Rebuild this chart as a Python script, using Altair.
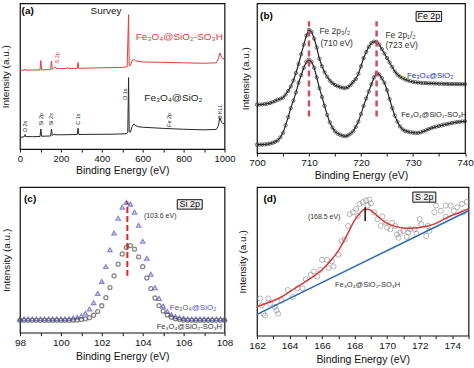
import altair as alt
import pandas as pd

FONT = "Liberation Sans"

# ---------------- Panel (a): survey ----------------
a_black_x = [0, 15, 22, 25, 28, 60, 98, 102, 106, 150, 154, 158, 165, 175, 200, 280, 284, 288, 350, 450,
             520, 527, 531, 534, 540, 548, 557, 566, 580, 600, 700, 800, 900, 960, 970, 977, 985, 992, 1000]
a_black_y = [8.0, 8.3, 8.6, 10.0, 8.6, 8.5, 8.6, 13.8, 8.8, 9.0, 13.8, 9.4, 10.0, 9.8, 9.8, 10.0, 14.3, 10.0, 10.1, 10.2,
             10.5, 11.5, 49.0, 12.0, 11.5, 15.5, 17.2, 16.0, 15.3, 15.0, 14.2, 13.6, 13.2, 13.5, 16.0, 21.6, 18.5, 17.5, 18.0]
a_red_x = [0, 22, 25, 28, 98, 102, 106, 150, 154, 158, 165, 170, 176, 200, 228, 232, 236, 280, 284, 288,
           400, 500, 524, 531, 534, 540, 548, 557, 566, 600, 700, 800, 900, 960, 970, 977, 985, 992, 1000]
a_red_y = [54.0, 54.2, 55.0, 54.2, 54.3, 60.8, 54.4, 54.5, 60.4, 54.8, 55.8, 56.5, 55.5, 55.2, 55.3, 56.0, 55.3, 55.4, 59.4, 55.4,
           55.8, 56.0, 56.5, 92.3, 57.0, 57.5, 60.5, 61.5, 60.5, 59.8, 59.5, 59.2, 58.9, 59.2, 62.0, 66.0, 63.0, 62.0, 62.6]
a_peak_text = ["O 2s", "Si 2p", "Si 2s", "C 1s", "O 1s", "Fe 2p", "O KLL"]
a_peak_x = [24, 102, 154, 284, 512, 729, 976]
a_peak_y = [15.5, 20.5, 20.5, 20.5, 37.6, 20.0, 25.5]
a_red_peak_text = ["S 2p"]
a_red_peak_x = [180]
a_red_peak_y = [62.6]

# ---------------- Panel (b): Fe 2p ----------------
b_x = [700.0, 700.5, 701.0, 701.5, 702.0, 702.5, 703.0, 703.5, 704.0, 704.5,
       705.0, 705.5, 706.0, 706.5, 707.0, 707.5, 708.0, 708.5, 709.0, 709.5,
       710.0, 710.5, 711.0, 711.5, 712.0, 712.5, 713.0, 713.5, 714.0, 714.5,
       715.0, 715.5, 716.0, 716.5, 717.0, 717.5, 718.0, 718.5, 719.0, 719.5,
       720.0, 720.5, 721.0, 721.5, 722.0, 722.5, 723.0, 723.5, 724.0, 724.5,
       725.0, 725.5, 726.0, 726.5, 727.0, 727.5, 728.0, 728.5, 729.0, 729.5,
       730.0, 730.5, 731.0, 731.5, 732.0, 732.5, 733.0, 733.5, 734.0, 734.5,
       735.0, 735.5, 736.0, 736.5, 737.0, 737.5, 738.0, 738.5, 739.0, 739.5, 740.0]
b_blue = [32.3, 32.4, 32.5, 32.7, 33.0, 33.4, 34.0, 34.8, 35.6, 36.2,
          37.0, 39.0, 41.5, 44.5, 48.5, 53.5, 59.5, 66.0, 72.5, 78.5,
          82.4, 81.0, 76.5, 70.5, 63.0, 58.0, 54.0, 51.0, 48.5, 46.8,
          45.5, 44.7, 44.0, 43.6, 43.4, 44.0, 45.5, 47.5, 49.5, 53.0,
          58.0, 63.5, 67.5, 71.0, 73.5, 74.5, 74.3, 72.5, 69.5, 66.5,
          63.5, 60.5, 57.5, 54.5, 52.5, 51.0, 50.0, 49.2, 48.5, 48.0,
          47.6, 47.3, 47.1, 46.9, 46.8, 46.7, 46.6, 46.5, 46.5, 46.4,
          46.3, 46.3, 46.2, 46.2, 46.1, 46.1, 46.1, 46.1, 46.0, 46.0, 46.0]
b_black = [5.6, 5.6, 5.7, 5.8, 6.0, 6.3, 6.8, 7.5, 8.5, 10.5,
           13.5, 18.5, 24.0, 30.0, 35.0, 40.5, 47.0, 52.0, 57.0, 61.0,
           62.4, 61.0, 57.0, 50.5, 43.4, 37.5, 31.5, 25.5, 20.5, 17.0,
           14.5, 13.0, 12.2, 11.5, 11.2, 11.8, 13.0, 14.5, 17.5, 21.0,
           26.0, 31.5, 36.5, 41.2, 46.0, 50.5, 53.4, 52.5, 50.0, 47.0,
           42.0, 36.0, 30.1, 25.0, 21.0, 17.8, 15.8, 14.8, 14.3, 13.9,
           13.6, 13.4, 13.5, 13.9, 14.5, 15.2, 16.0, 16.7, 17.2, 17.7,
           18.1, 18.5, 18.9, 19.3, 19.7, 20.1, 20.4, 20.7, 20.9, 21.1, 21.2]
b_dash_x = [710, 723]
b_dash_y1 = [24.5, 24.5]
b_dash_y2 = [88.0, 88.0]

# ---------------- Panel (c): Si 2p ----------------
c_x = [98.0, 98.2, 98.4, 98.6, 98.8, 99.0, 99.2, 99.4, 99.6, 99.8,
       100.0, 100.2, 100.4, 100.6, 100.8, 101.0, 101.2, 101.4, 101.6, 101.8,
       102.0, 102.2, 102.4, 102.6, 102.8, 103.0, 103.2, 103.4, 103.6, 103.8,
       104.0, 104.2, 104.4, 104.6, 104.8, 105.0, 105.2, 105.4, 105.6, 105.8,
       106.0, 106.2, 106.4, 106.6, 106.8, 107.0, 107.2, 107.4, 107.6, 107.8, 108.0]
c_blue = [9.5, 9.5, 9.5, 9.5, 9.5, 9.5, 9.5, 9.5, 9.5, 9.5,
          9.5, 9.5, 9.7, 10.0, 10.5, 11.5, 13.3, 16.2, 20.6, 26.9,
          35.2, 45.4, 56.9, 68.4, 78.5, 86.0, 89.4, 88.2, 82.7, 73.7,
          62.7, 51.0, 40.1, 30.8, 23.5, 18.2, 14.6, 12.3, 11.0, 10.2,
          9.8, 9.5, 9.5, 9.5, 9.5, 9.5, 9.5, 9.5, 9.5, 9.5, 9.5]
c_gray = [8.5, 8.5, 8.5, 8.5, 8.5, 8.5, 8.5, 8.5, 8.5, 8.5,
          8.5, 8.5, 8.5, 8.6, 8.7, 9.0, 9.5, 10.3, 12.0, 14.5,
          18.5, 24.0, 31.0, 39.0, 47.0, 54.0, 58.5, 59.8, 57.3, 52.1,
          45.3, 37.6, 30.3, 23.8, 18.6, 14.8, 12.2, 10.6, 9.6, 9.0,
          8.7, 8.5, 8.5, 8.5, 8.5, 8.5, 8.5, 8.5, 8.5, 8.5, 8.5]
c_dash_x = [103.25]
c_dash_y1 = [39.0]
c_dash_y2 = [90.0]

# ---------------- Panel (d): S 2p ----------------
d_pts_x = [162.2, 162.3, 162.4, 162.5, 162.7, 162.8, 163.1, 163.2, 163.3, 163.5,
           163.9, 164.2, 164.5, 164.8, 165.0, 165.3, 165.5, 165.7, 165.9, 166.0,
           166.3, 166.4, 166.6, 166.7, 167.0, 167.2, 167.4, 167.6, 167.7, 167.9,
           168.1, 168.3, 168.5, 168.7, 168.8, 169.2, 169.4, 169.6, 169.9, 170.0,
           170.2, 170.5, 170.6, 170.7, 170.8, 171.0, 171.2, 171.3, 171.4, 171.7,
           171.8, 172.0, 172.1, 172.4, 172.5, 172.6, 172.9, 173.0, 173.3, 173.6,
           173.9, 174.1, 174.3, 174.6, 174.7, 168.9, 169.0, 168.2, 169.7, 170.3, 173.6, 174.9]
d_pts_y = [25, 20.4, 14.8, 13.6, 25, 21.6, 19.3, 17, 14.8, 23.9,
           30.7, 26, 31.8, 31.8, 38, 40.9, 43.2, 39.8, 44.3, 51,
           51, 45.5, 50, 46.6, 54.5, 63.6, 64.8, 73.8, 81.8, 83,
           85.2, 88.6, 89.8, 90.9, 87.5, 83, 78.4, 73.8, 76.1, 72.7,
           71.6, 73.8, 68, 65.9, 69.3, 70.5, 66.5, 69.3, 71.6, 71.6,
           68.5, 78.4, 75, 67, 73.8, 70.5, 83, 87.5, 84, 87.5,
           87.5, 84, 86.4, 88.6, 83, 91.5, 89.0, 80.5, 80.2, 76.0, 80.0, 90.0]
d_fit_x = [162, 162.5, 163, 163.5, 164, 164.5, 165, 165.5, 166, 166.5, 167, 167.5, 168, 168.3, 168.6,
           168.9, 169.2, 169.5, 170, 170.5, 171, 171.5, 172, 172.5, 173, 173.5, 174, 174.5, 175]
d_fit_y = [19.5, 21.5, 23.5, 26.0, 29.5, 33.0, 36.5, 40.0, 44.3, 50.0, 57.0, 67.0, 77.5, 82.0, 85.0,
           84.8, 82.5, 79.5, 75.5, 73.5, 72.5, 72.3, 72.8, 73.8, 75.5, 78.4, 81.0, 83.0, 85.5]
d_base_x = [162, 175]
d_base_y = [14.3, 84.0]
d_mark_x = [168.65]
d_mark_y1 = [77.2]
d_mark_y2 = [86.4]

SAMPLE = "Fe\u2083O\u2084@SiO\u2082"
SAMPLE_S = "Fe\u2083O\u2084@SiO\u2082-SO\u2083H"

# annotation tables: text, x, y
a_survey = (["Survey"], [421], [94.5])
a_red_name = ([SAMPLE_S], [779], [76.8])
a_black_name = ([SAMPLE], [750], [35.1])
b_notes = (["Fe 2p\u2083/\u2082", "(710 eV)", "Fe 2p\u2081/\u2082", "(723 eV)"], [712.0, 712.2, 724.7, 724.7], [81.8, 73.5, 79.0, 72.4])
b_blue_name = ([SAMPLE], [733.3], [51.5])
b_black_name = ([SAMPLE_S], [734.0], [25.6])
c_notes = (["(103.6 eV)"], [104.06], [80.0])
c_blue_name = ([SAMPLE], [106.46], [17.0])
c_gray_name = ([SAMPLE_S], [106.28], [4.1])
d_peak_note = (["(168.5 eV)"], [165.13], [80.0])
d_name = ([SAMPLE_S], [168.8], [34.1])
panel_tags = (["(a)", "(b)", "(c)", "(d)"], [8, 700.6, 98.2, 162.4], [94.5, 91.3, 92.0, 92.0])
# boxed labels: text, x1, x2, y1, y2
box_text = ["Fe 2p", "Si 2p", "S 2p"]
box_x1 = [730.6, 105.69, 171.58]
box_x2 = [735.5, 106.91, 172.99]
box_y1 = [87.9, 84.8, 89.8]
box_y2 = [94.6, 91.3, 96.6]

YS = alt.Scale(domain=[0, 100], nice=False, zero=False)


def xaxis(values, every, lsize, lpad, tpad):
    return alt.Axis(title="Binding Energy (eV)", values=values, format="d",
                    labelExpr=f"datum.value % {every} == 0 ? datum.label : ''",
                    labelFlush=False, labelOverlap=False, tickSize=3, tickWidth=1,
                    labelFontSize=lsize, labelPadding=lpad, titleFontSize=10.5,
                    titlePadding=tpad, domain=False, grid=False)


def yaxis(tpad):
    return alt.Axis(title="Intensity (a.u.)", labels=False, ticks=False, domain=False,
                    grid=False, titleFontSize=10, titlePadding=tpad)


def make_enc(dom, xax, yax):
    return dict(x=alt.X("x:Q", scale=alt.Scale(domain=dom, nice=False, zero=False), axis=xax),
                y=alt.Y("y:Q", scale=YS, axis=yax))


def text_layer(tbl, enc, **mk):
    t, x, y = tbl
    df = pd.DataFrame({"t": t, "x": x, "y": y})
    return alt.Chart(df).mark_text(font=FONT, **mk).encode(text="t:N", **enc)


def rule_layer(xv, y1, y2, enc, **mk):
    df = pd.DataFrame({"x": xv, "y": y1, "y2": y2})
    return alt.Chart(df).mark_rule(**mk).encode(y2="y2:Q", **enc)


def box_layer(i, enc):
    df = pd.DataFrame({"x": [box_x1[i]], "x2": [box_x2[i]], "y": [box_y1[i]], "y2": [box_y2[i]]})
    r = alt.Chart(df).mark_rect(fill="#eeeeee", stroke="#111111", strokeWidth=1).encode(
        x2="x2:Q", y2="y2:Q", **enc)
    tdf = pd.DataFrame({"t": [box_text[i]], "x": [(box_x1[i] + box_x2[i]) / 2], "y": [(box_y1[i] + box_y2[i]) / 2]})
    t = alt.Chart(tdf).mark_text(font=FONT, fontSize=9, color="#111111", baseline="middle").encode(
        text="t:N", **enc)
    return [r, t]


def tag_layer(i, enc):
    t, x, y = panel_tags
    return text_layer(([t[i]], [x[i]], [y[i]]), enc, fontSize=10, fontWeight="bold", align="left",
                      baseline="middle", color="black")


# ---------- (a) ----------
encA = make_enc([0, 1000], xaxis(list(range(0, 1001, 100)), 200, 9.5, 1, 3), yaxis(9))
dfa = pd.concat([pd.DataFrame({"x": a_black_x, "y": a_black_y, "s": "black"}),
                 pd.DataFrame({"x": a_red_x, "y": a_red_y, "s": "red"})])
a_lines = alt.Chart(dfa).mark_line(strokeWidth=1).encode(
    detail="s:N",
    color=alt.Color("s:N", scale=alt.Scale(domain=["black", "red"], range=["#262626", "#e23a3a"]), legend=None),
    **encA)
a_layers = [
    a_lines,
    text_layer((a_peak_text, a_peak_x, a_peak_y), encA, fontSize=5.5, angle=270, align="center",
               baseline="middle", color="#222222"),
    text_layer((a_red_peak_text, a_red_peak_x, a_red_peak_y), encA, fontSize=5.5, angle=270, align="center",
               baseline="middle", color="#e23a3a"),
    text_layer(a_survey, encA, fontSize=10, color="#222222", baseline="middle"),
    text_layer(a_red_name, encA, fontSize=10, color="#e23a3a", baseline="middle"),
    text_layer(a_black_name, encA, fontSize=10, color="#222222", baseline="middle"),
    tag_layer(0, encA),
]
pa = alt.layer(*a_layers).properties(width=205, height=146)

# ---------- (b) ----------
encB = make_enc([700, 740], xaxis(list(range(700, 741, 5)), 10, 10, 1, 3), yaxis(6.5))
dfb = pd.concat([pd.DataFrame({"x": b_x, "y": b_blue, "s": "blue"}),
                 pd.DataFrame({"x": b_x, "y": b_black, "s": "black"})])
bcol = alt.Color("s:N", scale=alt.Scale(domain=["blue", "black"], range=["#2626d4", "#1e1e1e"]), legend=None)
b_line = alt.Chart(dfb).mark_line(strokeWidth=1.2).encode(detail="s:N", color=bcol, **encB)
b_pts = alt.Chart(dfb).mark_point(shape="circle", filled=False, size=11, strokeWidth=1).encode(color=bcol, **encB)
b_layers = [
    b_line, b_pts,
    rule_layer(b_dash_x, b_dash_y1, b_dash_y2, encB, color="#c9505c", strokeWidth=2.5, strokeDash=[6, 4]),
    text_layer(b_notes, encB, fontSize=8.5, align="left", baseline="middle", color="#333333"),
    text_layer(b_blue_name, encB, fontSize=8, baseline="middle", color="#2626d4"),
    text_layer(b_black_name, encB, fontSize=7.5, baseline="middle", color="#1e1e1e"),
] + box_layer(0, encB) + [tag_layer(1, encB)]
pb = alt.layer(*b_layers).properties(width=208.5, height=150)

# ---------- (c) ----------
encC = make_enc([98, 108], xaxis(list(range(98, 109, 1)), 2, 10, 2, 4), yaxis(8))
c_tri = alt.Chart(pd.DataFrame({"x": c_x, "y": c_blue})).mark_point(
    shape="triangle-up", filled=False, size=18, strokeWidth=1.3, color="#5252c8").encode(**encC)
c_cir = alt.Chart(pd.DataFrame({"x": c_x, "y": c_gray})).mark_point(
    shape="circle", filled=False, size=16, strokeWidth=1.3, color="#555555").encode(**encC)
c_layers = [
    c_tri, c_cir,
    rule_layer(c_dash_x, c_dash_y1, c_dash_y2, encC, color="#e02424", strokeWidth=2, strokeDash=[6, 3]),
    text_layer(c_notes, encC, fontSize=7, align="left", baseline="middle", color="#333333"),
    text_layer(c_blue_name, encC, fontSize=8, baseline="middle", color="#5252c8"),
    text_layer(c_gray_name, encC, fontSize=7.5, baseline="middle", color="#333333"),
] + box_layer(1, encC) + [tag_layer(2, encC)]
pc = alt.layer(*c_layers).properties(width=205, height=146)

# ---------- (d) ----------
encD = make_enc([162, 175], xaxis(list(range(162, 176, 1)), 2, 10, 2, 4), yaxis(9.5))
d_sc = alt.Chart(pd.DataFrame({"x": d_pts_x, "y": d_pts_y})).mark_point(
    shape="circle", filled=False, size=26, strokeWidth=0.9, color="#8a8a8a").encode(**encD)
d_base = alt.Chart(pd.DataFrame({"x": d_base_x, "y": d_base_y})).mark_line(
    color="#2f6bb3", strokeWidth=1.5).encode(**encD)
d_fit = alt.Chart(pd.DataFrame({"x": d_fit_x, "y": d_fit_y})).mark_line(
    color="#d43a3a", strokeWidth=1.5, interpolate="monotone").encode(**encD)
d_layers = [
    d_sc, d_base, d_fit,
    rule_layer(d_mark_x, d_mark_y1, d_mark_y2, encD, color="#111111", strokeWidth=1.5),
    text_layer(d_peak_note, encD, fontSize=7, align="left", baseline="middle", color="#333333"),
    text_layer(d_name, encD, fontSize=7.5, align="center", baseline="middle", color="#333333"),
] + box_layer(2, encD) + [tag_layer(3, encD)]
pd_ = alt.layer(*d_layers).properties(width=212, height=149)

chart = alt.concat(pa, pb, pc, pd_, columns=2, spacing={"row": 34, "column": 32.5},
                   bounds="flush", align="each").properties(
    padding={"left": 0, "top": 2, "right": 0, "bottom": 0}
).configure_view(stroke="#111111", strokeWidth=1.2).configure_axis(
    labelFont=FONT, titleFont=FONT, labelColor="#111111", titleColor="#111111",
    tickColor="#111111", titleFontWeight="normal"
)

chart.save("out.html", embed_options={"renderer": "svg", "actions": False})
